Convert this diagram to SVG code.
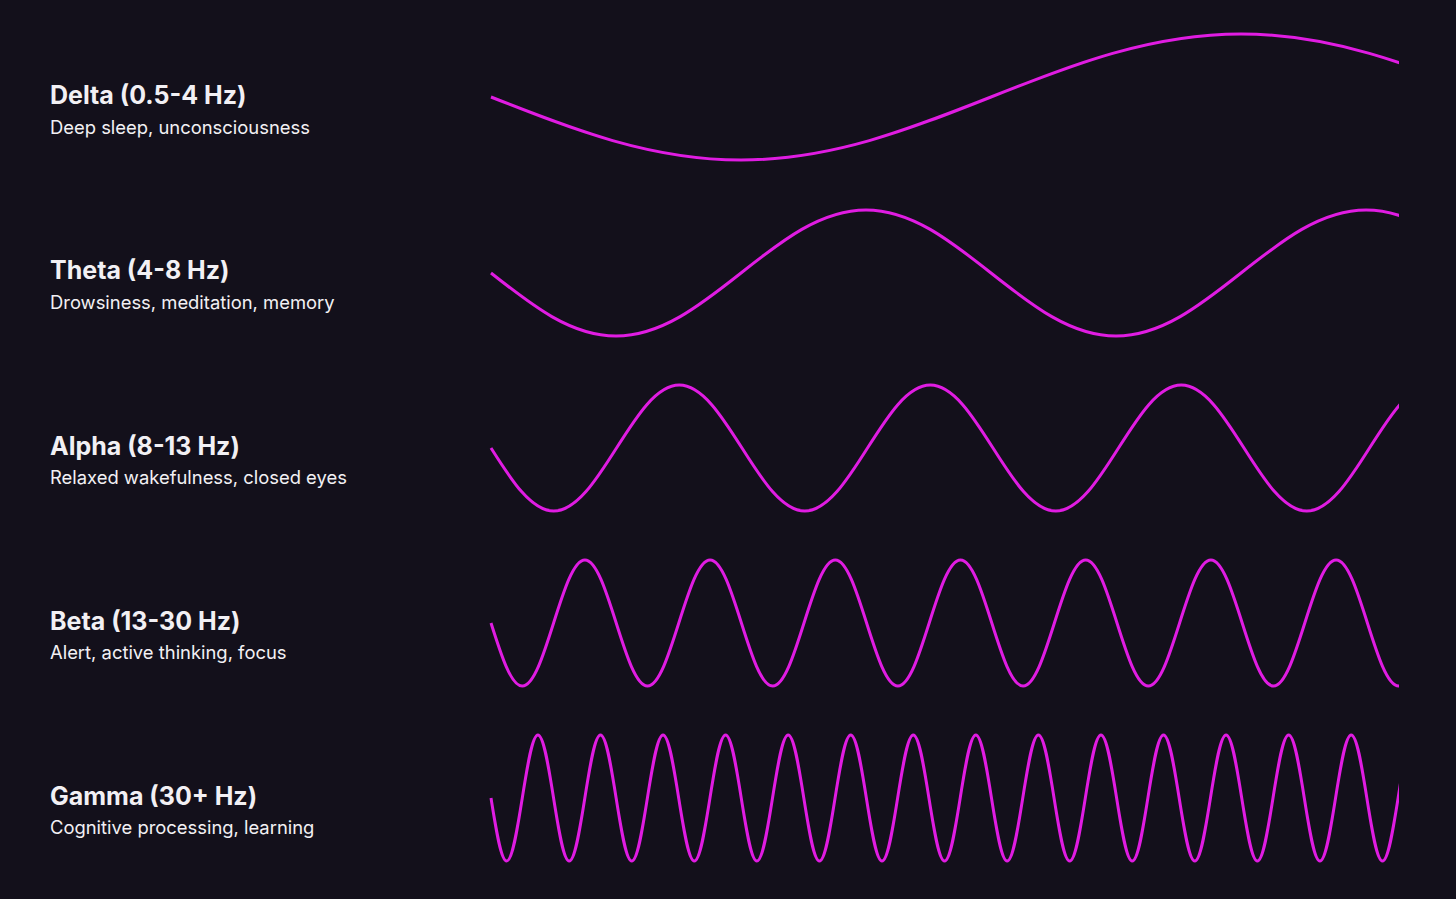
<svg xmlns="http://www.w3.org/2000/svg" width="1456" height="899" viewBox="0 0 1456 899">
<style>
.t{font-family:Inter,"Liberation Sans",sans-serif;font-weight:700;font-size:25px;fill:#f2f0f4}
.s{font-family:Inter,"Liberation Sans",sans-serif;font-weight:400;font-size:18.4px;fill:#f2f0f4}
.w{fill:none;stroke:#e01ce2;stroke-width:3}
</style>
<defs><clipPath id="c"><rect x="480" y="0" width="919" height="899"/></clipPath></defs>
<rect width="1456" height="899" fill="#13101b"/>
<g id="delta"><text class="t" x="50" y="104">Delta (0.5-4 Hz)</text><text class="s" x="50" y="134">Deep sleep, unconsciousness</text></g>
<g id="theta"><text class="t" x="50" y="279">Theta (4-8 Hz)</text><text class="s" x="50" y="309">Drowsiness, meditation, memory</text></g>
<g id="alpha"><text class="t" x="50" y="455">Alpha (8-13 Hz)</text><text class="s" x="50" y="484">Relaxed wakefulness, closed eyes</text></g>
<g id="beta"><text class="t" x="50" y="630">Beta (13-30 Hz)</text><text class="s" x="50" y="659">Alert, active thinking, focus</text></g>
<g id="gamma"><text class="t" x="50" y="805">Gamma (30+ Hz)</text><text class="s" x="50" y="834">Cognitive processing, learning</text></g>
<g id="waves" clip-path="url(#c)">
<path class="w" d="M491,97 c81.53,32.27 159.53,63 250,63 s168.48,-30.73 250,-63 s159.53,-63 250,-63 s168.48,30.73 250,63"/>
<path class="w" d="M491,273 c40.76,32.27 79.76,63 125,63 s84.24,-30.73 125,-63 s79.76,-63 125,-63 s84.24,30.73 125,63 s79.76,63 125,63 s84.24,-30.73 125,-63 s79.76,-63 125,-63 s84.24,30.73 125,63"/>
<path class="w" d="M491,448 c20.46,32.27 40.04,63 62.75,63 s42.29,-30.73 62.75,-63 s40.04,-63 62.75,-63 s42.29,30.73 62.75,63 s40.04,63 62.75,63 s42.29,-30.73 62.75,-63 s40.04,-63 62.75,-63 s42.29,30.73 62.75,63 s40.04,63 62.75,63 s42.29,-30.73 62.75,-63 s40.04,-63 62.75,-63 s42.29,30.73 62.75,63 s40.04,63 62.75,63 s42.29,-30.73 62.75,-63 s40.04,-63 62.75,-63 s42.29,30.73 62.75,63"/>
<path class="w" d="M491,623 c10.21,32.27 19.97,63 31.3,63 s21.09,-30.73 31.3,-63 s19.97,-63 31.3,-63 s21.09,30.73 31.3,63 s19.97,63 31.3,63 s21.09,-30.73 31.3,-63 s19.97,-63 31.3,-63 s21.09,30.73 31.3,63 s19.97,63 31.3,63 s21.09,-30.73 31.3,-63 s19.97,-63 31.3,-63 s21.09,30.73 31.3,63 s19.97,63 31.3,63 s21.09,-30.73 31.3,-63 s19.97,-63 31.3,-63 s21.09,30.73 31.3,63 s19.97,63 31.3,63 s21.09,-30.73 31.3,-63 s19.97,-63 31.3,-63 s21.09,30.73 31.3,63 s19.97,63 31.3,63 s21.09,-30.73 31.3,-63 s19.97,-63 31.3,-63 s21.09,30.73 31.3,63 s19.97,63 31.3,63 s21.09,-30.73 31.3,-63 s19.97,-63 31.3,-63 s21.09,30.73 31.3,63 s19.97,63 31.3,63 s21.09,-30.73 31.3,-63 s19.97,-63 31.3,-63 s21.09,30.73 31.3,63"/>
<path class="w" d="M491,798 c5.1,32.27 9.98,63 15.64,63 s10.54,-30.73 15.64,-63 s9.98,-63 15.64,-63 s10.54,30.73 15.64,63
s9.98,63 15.64,63 s10.54,-30.73 15.64,-63 s9.98,-63 15.64,-63 s10.54,30.73 15.64,63
s9.98,63 15.64,63 s10.54,-30.73 15.64,-63 s9.98,-63 15.64,-63 s10.54,30.73 15.64,63
s9.98,63 15.64,63 s10.54,-30.73 15.64,-63 s9.98,-63 15.64,-63 s10.54,30.73 15.64,63
s9.98,63 15.64,63 s10.54,-30.73 15.64,-63 s9.98,-63 15.64,-63 s10.54,30.73 15.64,63
s9.98,63 15.64,63 s10.54,-30.73 15.64,-63 s9.98,-63 15.64,-63 s10.54,30.73 15.64,63
s9.98,63 15.64,63 s10.54,-30.73 15.64,-63 s9.98,-63 15.64,-63 s10.54,30.73 15.64,63
s9.98,63 15.64,63 s10.54,-30.73 15.64,-63 s9.98,-63 15.64,-63 s10.54,30.73 15.64,63
s9.98,63 15.64,63 s10.54,-30.73 15.64,-63 s9.98,-63 15.64,-63 s10.54,30.73 15.64,63
s9.98,63 15.64,63 s10.54,-30.73 15.64,-63 s9.98,-63 15.64,-63 s10.54,30.73 15.64,63
s9.98,63 15.64,63 s10.54,-30.73 15.64,-63 s9.98,-63 15.64,-63 s10.54,30.73 15.64,63
s9.98,63 15.64,63 s10.54,-30.73 15.64,-63 s9.98,-63 15.64,-63 s10.54,30.73 15.64,63
s9.98,63 15.64,63 s10.54,-30.73 15.64,-63 s9.98,-63 15.64,-63 s10.54,30.73 15.64,63
s9.98,63 15.64,63 s10.54,-30.73 15.64,-63 s9.98,-63 15.64,-63 s10.54,30.73 15.64,63
s9.98,63 15.64,63 s10.54,-30.73 15.64,-63 s9.98,-63 15.64,-63 s10.54,30.73 15.64,63"/>
</g>
</svg>
